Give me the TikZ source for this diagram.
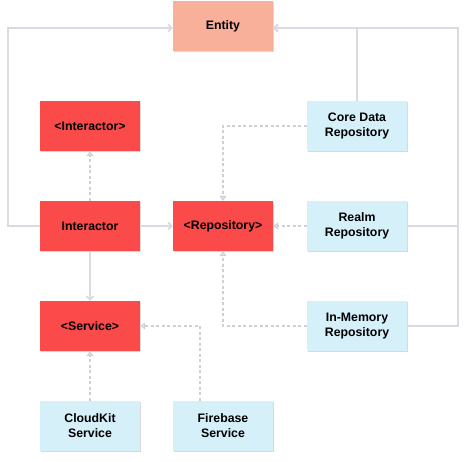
\documentclass[tikz,border=0pt]{standalone}
\usepackage{fontspec}
\setmainfont{Liberation Sans}
\usetikzlibrary{positioning,arrows.meta,shadows}
\tikzstyle{pixelGrid} = [x = 1pt, y = -1pt]
\definecolor{entityColor}{RGB}{249,176,154}
\definecolor{protocolColor}{RGB}{251,74,74}
\definecolor{implColor}{RGB}{214,240,250}
\definecolor{lineColor}{RGB}{216,219,226}
\tikzstyle{layerBox} = [minimum width=100pt, minimum height=50pt, align=center, inner sep=2pt, font=\fontsize{12.3}{15}\selectfont\bfseries, drop shadow={shadow xshift=1.2pt, shadow yshift=-1.2pt, opacity=.3}]
\tikzstyle{entityBox} = [layerBox, fill=entityColor]
\tikzstyle{protocolBox} = [layerBox, fill=protocolColor]
\tikzstyle{implBox} = [layerBox, fill=implColor]
\tikzstyle{usesLine} = [color=lineColor, line width=1.7pt, -{Straight Barb[length=3.5pt,width=7pt]}]
\tikzstyle{conformsLine} = [color=lineColor!95!black, line width=1.7pt, dash pattern=on 3pt off 2.5pt, -{Triangle[open,length=5pt,width=7pt]}]
\newcommand{\colA}{90}
\newcommand{\colB}{223}
\newcommand{\colC}{357}

\begin{document}
\begin{tikzpicture}[pixelGrid]
  \useasboundingbox (0,0) rectangle (474,461);
  % boxes
  \node [entityBox] (entity) at (\colB,26) {Entity};
  \node [protocolBox] (interactorProtocol) at (\colA,126) {<Interactor>};
  \node [implBox] (coreData) at (\colC,126) {Core Data\\Repository};
  \node [protocolBox] (interactor) at (\colA,226) {Interactor};
  \node [protocolBox] (repositoryProtocol) at (\colB,226) {<Repository>};
  \node [implBox] (realm) at (\colC,226) {Realm\\Repository};
  \node [protocolBox] (serviceProtocol) at (\colA,326) {<Service>};
  \node [implBox] (inMemory) at (\colC,326) {In-Memory\\Repository};
  \node [implBox] (cloudKit) at (\colA,426) {CloudKit\\Service};
  \node [implBox] (firebase) at (\colB,426) {Firebase\\Service};
  \coordinate (leftBus) at (8,28);
  \coordinate (rightBus) at (458,28);
  % uses
  \draw [usesLine] (interactor.west) -| (leftBus) -- (entity.west |- leftBus);
  \draw [usesLine] (coreData.north) |- (entity.east |- rightBus);
  \draw [usesLine] (realm.east) -| (rightBus) -- (entity.east |- rightBus);
  \draw [usesLine] (inMemory.east) -| (rightBus) -- (entity.east |- rightBus);
  \draw [usesLine] (interactor.east) -- (repositoryProtocol.west);
  \draw [usesLine] (interactor.south) -- (serviceProtocol.north);
  % conforms
  \draw [conformsLine] (interactor.north) -- (interactorProtocol.south);
  \draw [conformsLine] (coreData.west) -| (repositoryProtocol.north);
  \draw [conformsLine] (realm.west) -- (repositoryProtocol.east);
  \draw [conformsLine] (inMemory.west) -| (repositoryProtocol.south);
  \draw [conformsLine] (cloudKit.north) -- (serviceProtocol.south);
  \draw [conformsLine] ([xshift=-23pt]firebase.north) |- (serviceProtocol.east);
\end{tikzpicture}
\end{document}
